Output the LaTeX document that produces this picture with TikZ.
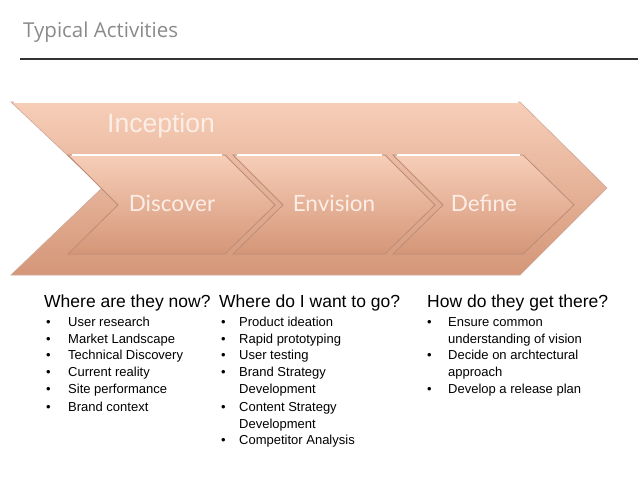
\documentclass[tikz,border=0pt]{standalone}
\usepackage{fontspec}
\setmainfont{Liberation Sans}
\newfontfamily\titlefont{Open Sans}
\newfontfamily\stagefont{Lato}
\definecolor{peachtop}{RGB}{247,206,184}
\definecolor{peachbot}{RGB}{212,150,120}
\definecolor{peachedge}{RGB}{170,112,88}
\definecolor{titlegray}{RGB}{138,138,138}
\definecolor{stagetext}{RGB}{252,238,230}
\tikzset{
  band/.style={top color=peachtop, bottom color=peachbot, draw=peachedge!60, line width=.6pt},
  stage/.style={top color=peachtop, bottom color=peachbot, draw=peachedge!80, line width=.8pt},
  shine/.style={white, line width=1.2pt},
  stagelabel/.style={anchor=base, inner sep=0pt, text=stagetext, font=\stagefont\fontsize{22.5}{26}\selectfont},
  heading/.style={anchor=base west, inner sep=0pt, font=\fontsize{17.5}{21}\selectfont},
  bullet/.style={anchor=base west, inner sep=0pt, font=\fontsize{13}{17}\selectfont},
  item/.style={anchor=base west, inner sep=0pt, align=left, font=\fontsize{13}{17}\selectfont},
}
\begin{document}
\begin{tikzpicture}[x=1pt,y=-1pt]
\useasboundingbox (0,0) rectangle (638,479);
% title and rule
\node[anchor=base west, inner sep=0pt, text=titlegray, font=\titlefont\fontsize{20.5}{24}\selectfont] (title) at (23,37) {Typical Activities};
\coordinate (ruleL) at (20,59);
\coordinate (ruleR) at (638,59);
\draw[line width=2pt, black!80] (ruleL) -- (ruleR);
% inception band
\draw[band] (11,102) -- (520,102) -- (607,188) -- (520,275) -- (11,275) -- (102,188) -- cycle;
\draw[shine] (14,102) -- (518,102);
\node[stagelabel, anchor=base west, font=\fontsize{26.5}{30}\selectfont] (inception) at (107,132) {Inception};
% stages
\draw[stage] (68,155) -- (225,155) -- (275,205) -- (225,254) -- (68,254) -- (118,205) -- cycle;
\draw[shine] (72,155) -- (222,155);
\node[stagelabel] (discover) at (172,211) {Discover};
\draw[stage] (233,155) -- (385,155) -- (435,205) -- (385,254) -- (233,254) -- (283,205) -- cycle;
\draw[shine] (237,155) -- (382,155);
\node[stagelabel] (envision) at (334,211) {Envision};
\draw[stage] (393,155) -- (523,155) -- (574,205) -- (523,254) -- (393,254) -- (443,205) -- cycle;
\draw[shine] (397,155) -- (520,155);
\node[stagelabel] (define) at (484,211) {Define};
% questions
\node[heading] (qnow) at (44,307) {Where are they now?};
\node[heading] (qgo) at (219,307) {Where do I want to go?};
\node[heading] (qhow) at (427,307) {How do they get there?};
% where are they now
\node[bullet] (bn1) at (46,326) {•};
\node[item] (now1) at (68,326) {User research};
\node[bullet] (bn2) at (46,343) {•};
\node[item] (now2) at (68,343) {Market Landscape};
\node[bullet] (bn3) at (46,359) {•};
\node[item] (now3) at (68,359) {Technical Discovery};
\node[bullet] (bn4) at (46,376) {•};
\node[item] (now4) at (68,376) {Current reality};
\node[bullet] (bn5) at (46,393) {•};
\node[item] (now5) at (68,393) {Site performance};
\node[bullet] (bn6) at (46,411) {•};
\node[item] (now6) at (68,411) {Brand context};
% where do I want to go (two-line items sit on their last baseline)
\node[bullet] (bg1) at (221,326) {•};
\node[item] (go1) at (239,326) {Product ideation};
\node[bullet] (bg2) at (221,343) {•};
\node[item] (go2) at (239,343) {Rapid prototyping};
\node[bullet] (bg3) at (221,359) {•};
\node[item] (go3) at (239,359) {User testing};
\node[bullet] (bg4) at (221,376) {•};
\node[item] (go4) at (239,393) {Brand Strategy\\Development};
\node[bullet] (bg5) at (221,411) {•};
\node[item] (go5) at (239,428) {Content Strategy\\Development};
\node[bullet] (bg6) at (221,444) {•};
\node[item] (go6) at (239,444) {Competitor Analysis};
% how do they get there
\node[bullet] (bh1) at (427,326) {•};
\node[item] (how1) at (448,343) {Ensure common\\understanding of vision};
\node[bullet] (bh2) at (427,359) {•};
\node[item] (how2) at (448,376) {Decide on archtectural\\approach};
\node[bullet] (bh3) at (427,393) {•};
\node[item] (how3) at (448,393) {Develop a release plan};
\end{tikzpicture}
\end{document}
